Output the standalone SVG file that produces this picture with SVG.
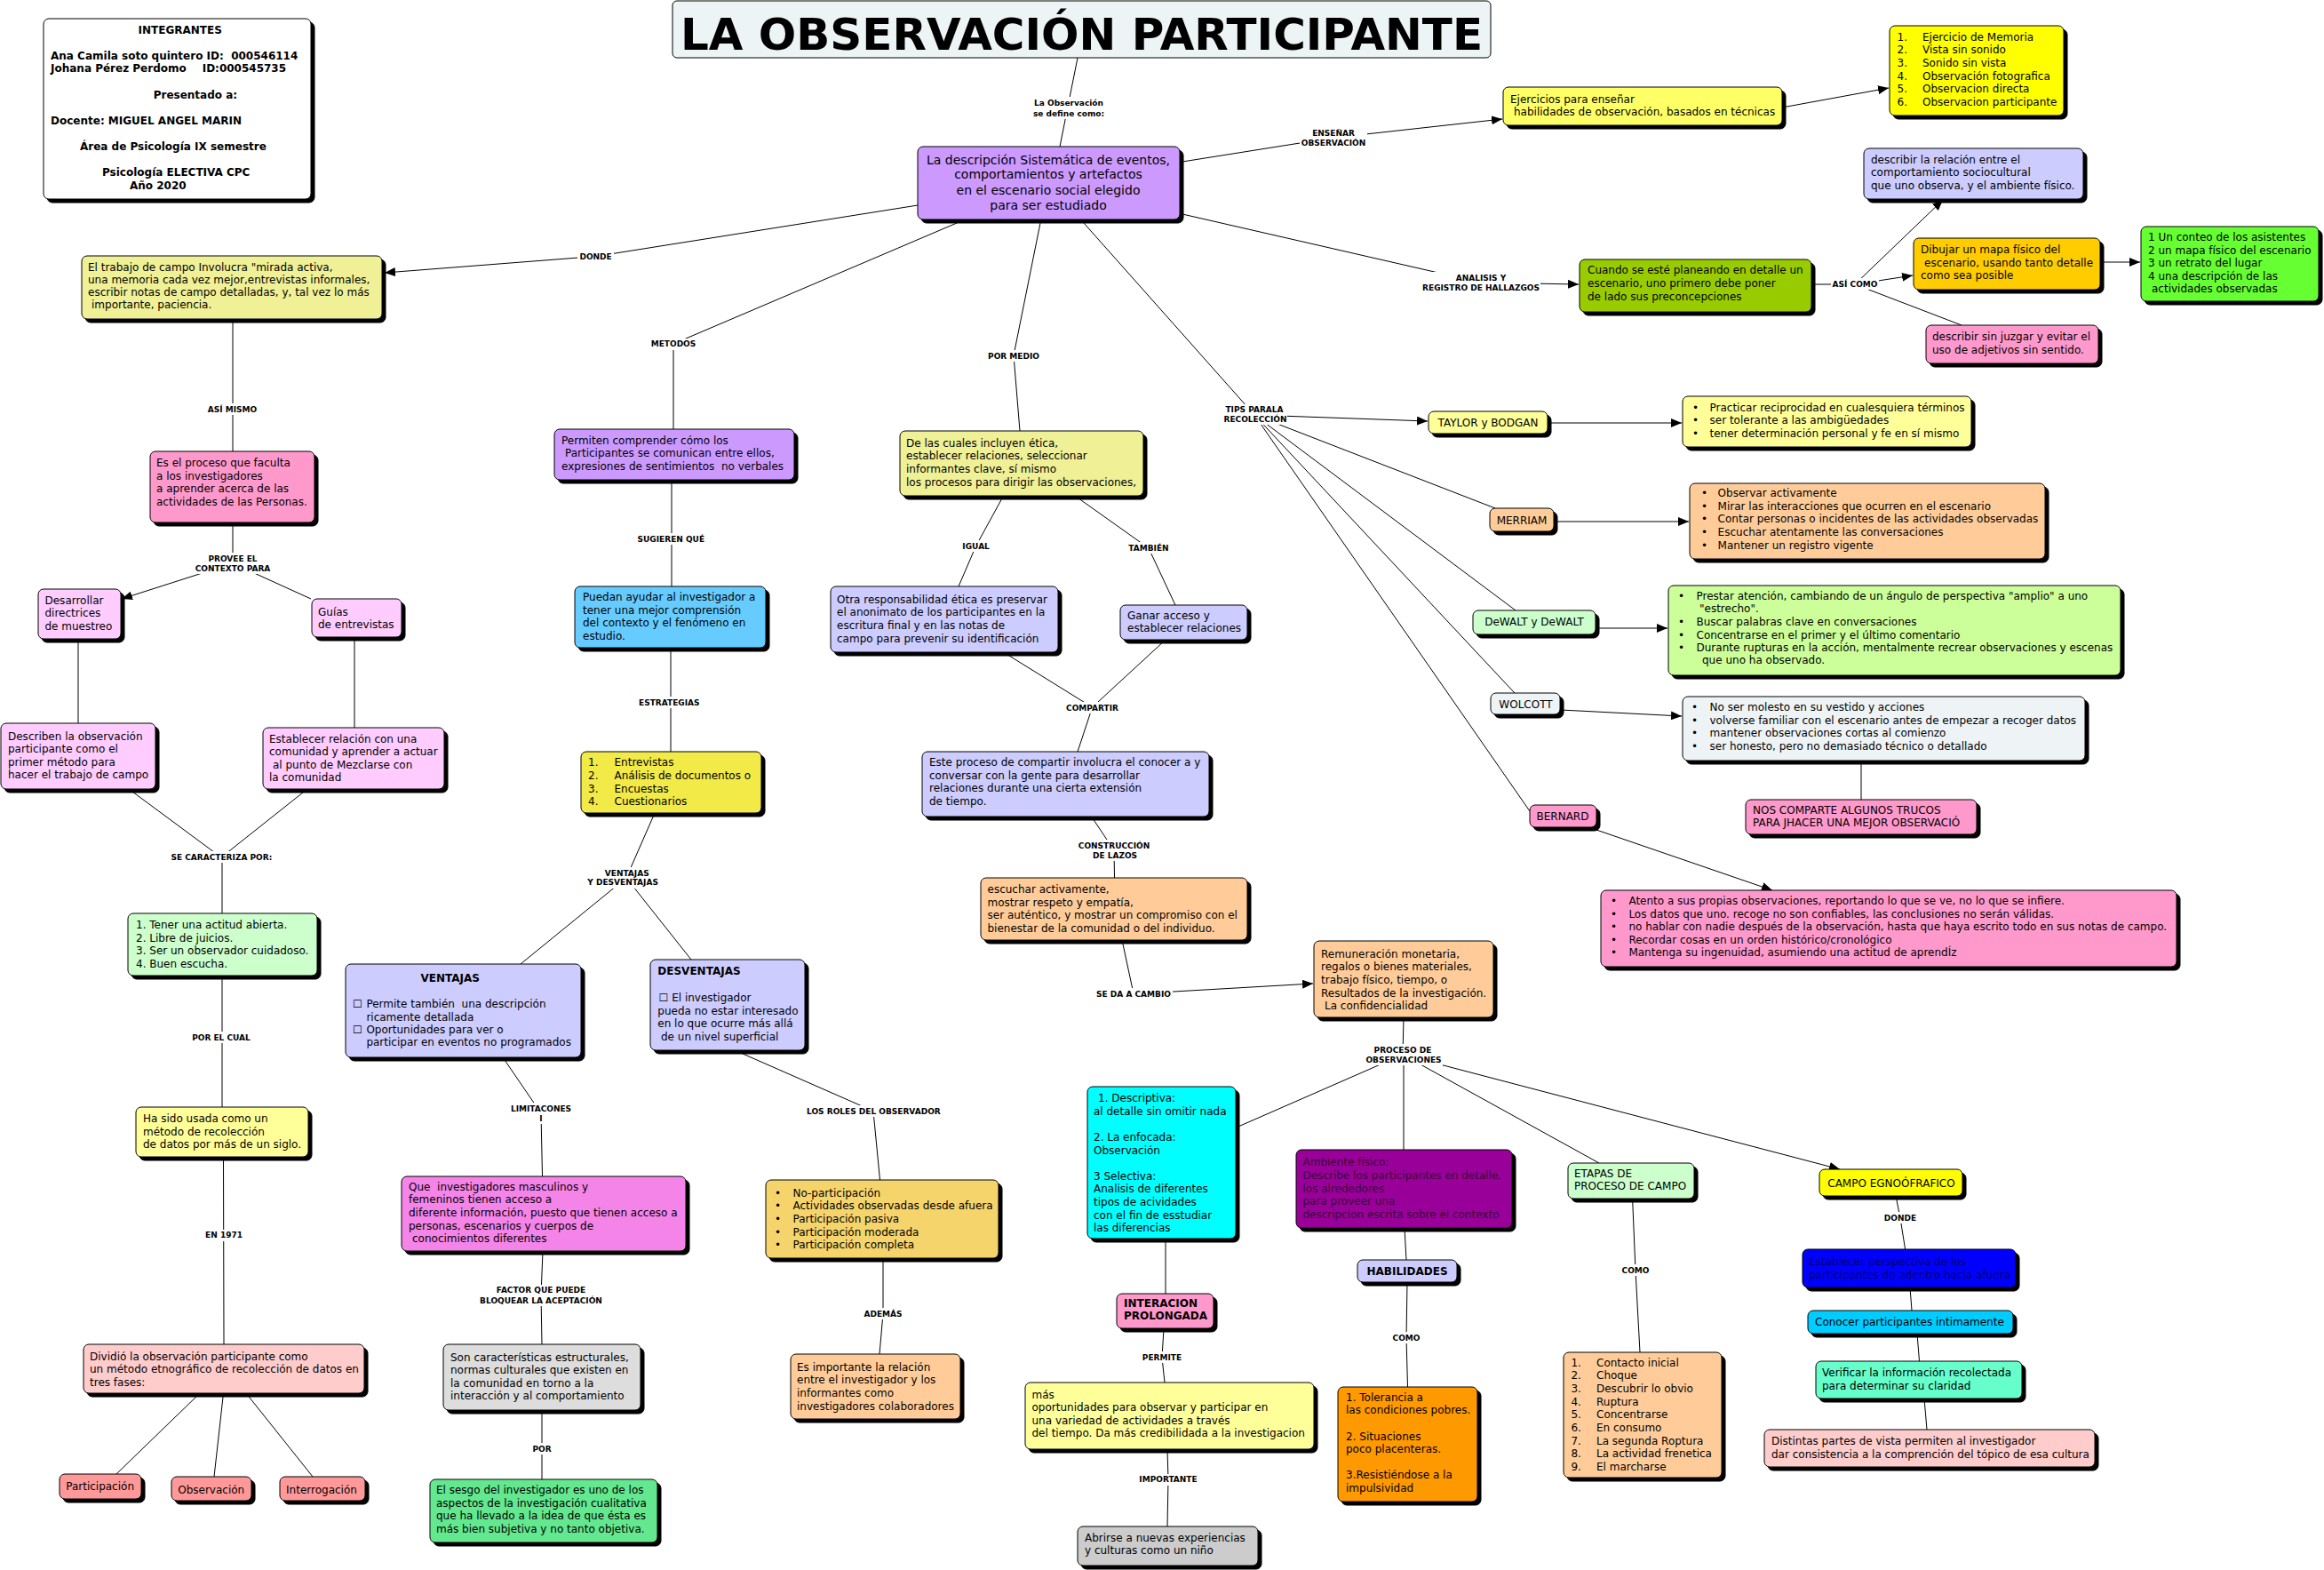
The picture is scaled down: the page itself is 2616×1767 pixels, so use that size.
<svg xmlns="http://www.w3.org/2000/svg" width="2616" height="1767" viewBox="0 0 2616 1767">
<defs>
<style>
text{font-family:"DejaVu Sans",Verdana,"Liberation Sans",sans-serif;font-size:12px;fill:#000}
.b{font-weight:bold}
.m{text-anchor:middle}
.n{stroke:#000;stroke-width:1;filter:url(#ds)}
.c{stroke:#000;stroke-width:1;fill:none}
.a{marker-end:url(#ah)}
.lb{fill:#fff}
.lt{font-size:9px;font-weight:bold;text-anchor:middle}
</style>
<filter id="ds" x="-0.1" y="-0.3" width="1.3" height="1.8"><feOffset in="SourceAlpha" dx="4" dy="4" result="o"/><feMerge><feMergeNode in="o"/><feMergeNode in="SourceGraphic"/></feMerge></filter>
<marker id="ah" viewBox="0 0 12 10" refX="12" refY="5" markerWidth="12" markerHeight="10" markerUnits="userSpaceOnUse" orient="auto"><path d="M0,0 L12,5 L0,10 z" fill="#000"/></marker>
</defs>
<rect width="2616" height="1767" fill="#fff"/>

<g id="connectors">
<line class="c" x1="1213" y1="65" x2="1193" y2="165"/>
<line class="c" x1="1033" y1="231" x2="670.6" y2="288.5"/>
<line class="c a" x1="670.6" y1="288.5" x2="433" y2="307"/>
<line class="c" x1="1077" y1="251" x2="758" y2="387"/>
<line class="c" x1="758" y1="387" x2="758" y2="483"/>
<line class="c" x1="1171" y1="251" x2="1141" y2="400"/>
<line class="c" x1="1141" y1="400" x2="1148" y2="485"/>
<line class="c" x1="1331" y1="182" x2="1501" y2="155"/>
<line class="c a" x1="1501" y1="155" x2="1691" y2="134"/>
<line class="c" x1="1331" y1="241" x2="1667" y2="318"/>
<line class="c a" x1="1667" y1="318" x2="1777" y2="320"/>
<line class="c" x1="1220" y1="251" x2="1412" y2="467"/>
<line class="c a" x1="1412" y1="467" x2="1607" y2="474"/>
<line class="c a" x1="1742" y1="476" x2="1893" y2="476"/>
<line class="c" x1="1412" y1="467" x2="1683" y2="572"/>
<line class="c a" x1="1750" y1="587" x2="1901" y2="587"/>
<line class="c" x1="1412" y1="467" x2="1706" y2="687"/>
<line class="c a" x1="1796" y1="707" x2="1877" y2="707"/>
<line class="c" x1="1412" y1="467" x2="1705" y2="780"/>
<line class="c a" x1="1757" y1="799" x2="1893" y2="806"/>
<line class="c" x1="1412" y1="467" x2="1722" y2="913"/>
<line class="c a" x1="1797" y1="934" x2="1995" y2="1002"/>
<line class="c" x1="2095" y1="856" x2="2095" y2="900"/>
<line class="c a" x1="2006" y1="121" x2="2126" y2="99"/>
<line class="c" x1="2039" y1="320" x2="2088" y2="320"/>
<line class="c a" x1="2088" y1="320" x2="2187" y2="225"/>
<line class="c a" x1="2088" y1="320" x2="2153" y2="310"/>
<line class="c" x1="2088" y1="320" x2="2208" y2="366"/>
<line class="c a" x1="2364" y1="295" x2="2409" y2="295"/>
<line class="c" x1="262" y1="359" x2="262" y2="508"/>
<line class="c" x1="262" y1="588" x2="262" y2="634"/>
<line class="c a" x1="262" y1="634" x2="137" y2="674"/>
<line class="c" x1="262" y1="634" x2="350" y2="674"/>
<line class="c" x1="88" y1="719" x2="88" y2="814"/>
<line class="c" x1="399" y1="717" x2="399" y2="819"/>
<line class="c" x1="145" y1="888" x2="249" y2="965"/>
<line class="c" x1="346" y1="888" x2="249" y2="965"/>
<line class="c" x1="250" y1="965" x2="250" y2="1028"/>
<line class="c" x1="250" y1="1098" x2="250" y2="1246"/>
<line class="c" x1="251.5" y1="1302" x2="252" y2="1513"/>
<line class="c" x1="225" y1="1568" x2="131" y2="1659"/>
<line class="c" x1="251.5" y1="1568" x2="241" y2="1662"/>
<line class="c" x1="277" y1="1568" x2="352" y2="1662"/>
<line class="c" x1="756" y1="540" x2="756" y2="660"/>
<line class="c" x1="755" y1="729" x2="755" y2="846"/>
<line class="c" x1="737" y1="915" x2="705" y2="988"/>
<line class="c" x1="705" y1="988" x2="586" y2="1085"/>
<line class="c" x1="705" y1="988" x2="778" y2="1080"/>
<line class="c" x1="566" y1="1190" x2="609" y2="1253"/>
<line class="c" x1="609" y1="1253" x2="610.5" y2="1324"/>
<line class="c" x1="611" y1="1408" x2="609" y2="1458"/>
<line class="c" x1="609" y1="1458" x2="610" y2="1513"/>
<line class="c" x1="610" y1="1587" x2="610" y2="1665"/>
<line class="c" x1="827" y1="1182" x2="983" y2="1250.5"/>
<line class="c" x1="983" y1="1250.5" x2="990.5" y2="1328"/>
<line class="c" x1="994" y1="1416" x2="994" y2="1478.5"/>
<line class="c" x1="994" y1="1478.5" x2="990" y2="1524"/>
<line class="c" x1="1129.5" y1="558" x2="1098.6" y2="614.5"/>
<line class="c" x1="1098.6" y1="614.5" x2="1079" y2="660"/>
<line class="c" x1="1210" y1="558" x2="1293" y2="617"/>
<line class="c" x1="1293" y1="617" x2="1323" y2="681"/>
<line class="c" x1="1129.5" y1="734" x2="1229.5" y2="796"/>
<line class="c" x1="1312" y1="720" x2="1229.5" y2="796"/>
<line class="c" x1="1229.5" y1="796" x2="1213" y2="846"/>
<line class="c" x1="1228.6" y1="919" x2="1254" y2="957"/>
<line class="c" x1="1254" y1="957" x2="1254.5" y2="988"/>
<line class="c" x1="1263" y1="1058" x2="1276" y2="1118.6"/>
<line class="c a" x1="1276" y1="1118.6" x2="1478" y2="1107"/>
<line class="c" x1="1580" y1="1145" x2="1579" y2="1187"/>
<line class="c" x1="1579" y1="1187" x2="1391.5" y2="1269"/>
<line class="c" x1="1580" y1="1187" x2="1580" y2="1294"/>
<line class="c" x1="1579" y1="1187" x2="1800" y2="1309"/>
<line class="c a" x1="1579" y1="1187" x2="2071" y2="1316"/>
<line class="c" x1="1312" y1="1394" x2="1312" y2="1456"/>
<line class="c" x1="1310" y1="1495" x2="1308" y2="1528"/>
<line class="c" x1="1308" y1="1528" x2="1311" y2="1556"/>
<line class="c" x1="1314" y1="1631" x2="1315" y2="1665"/>
<line class="c" x1="1315" y1="1665" x2="1314" y2="1718"/>
<line class="c" x1="1581" y1="1382" x2="1583" y2="1418"/>
<line class="c" x1="1584" y1="1443" x2="1583" y2="1505.5"/>
<line class="c" x1="1583" y1="1505.5" x2="1584.5" y2="1561"/>
<line class="c" x1="1837.6" y1="1349" x2="1841" y2="1430"/>
<line class="c" x1="1841" y1="1430" x2="1846" y2="1522"/>
<line class="c" x1="2134" y1="1346" x2="2139" y2="1371"/>
<line class="c" x1="2139" y1="1371" x2="2144.6" y2="1406"/>
<line class="c" x1="2150" y1="1449" x2="2152" y2="1475"/>
<line class="c" x1="2158" y1="1501" x2="2160.5" y2="1532"/>
<line class="c" x1="2166" y1="1574" x2="2169" y2="1609"/>

<g id="link-labels">
<rect class="lb" x="1157" y="109" width="92" height="25"/><text class="lt"><tspan x="1203" y="119">La Observación</tspan><tspan x="1203" y="131">se define como:</tspan></text>
<rect class="lb" x="650" y="282" width="41" height="13"/><text class="lt" x="670.6" y="291.7">DONDE</text>
<rect class="lb" x="732" y="381" width="52" height="13"/><text class="lt" x="758" y="390.4">METODOS</text>
<rect class="lb" x="1110" y="394" width="62" height="13"/><text class="lt" x="1141" y="403.6">POR MEDIO</text>
<rect class="lb" x="1463" y="143" width="76" height="24"/><text class="lt"><tspan x="1501" y="152.7">ENSEÑAR</tspan><tspan x="1501" y="163.6">OBSERVACIÓN</tspan></text>
<rect class="lb" x="1600" y="306" width="134" height="24"/><text class="lt"><tspan x="1667" y="316.1">ANALISIS Y</tspan><tspan x="1667" y="327">REGISTRO DE HALLAZGOS</tspan></text>
<rect class="lb" x="1375" y="455" width="74" height="23"/><text class="lt"><tspan x="1412" y="464.4">TIPS PARALA</tspan><tspan x="1413" y="475.3">RECOLECCIÓN</tspan></text>
<rect class="lb" x="2061" y="313" width="54" height="13"/><text class="lt" x="2088" y="322.8">ASÍ COMO</text>
<rect class="lb" x="232" y="454" width="59" height="13"/><text class="lt" x="261.5" y="463.7">ASÍ MISMO</text>
<rect class="lb" x="218" y="622" width="88" height="24"/><text class="lt"><tspan x="262" y="632">PROVEE EL</tspan><tspan x="262" y="643.3">CONTEXTO PARA</tspan></text>
<rect class="lb" x="191" y="958" width="117" height="13"/><text class="lt" x="249.4" y="967.8">SE CARACTERIZA POR:</text>
<rect class="lb" x="215" y="1161" width="68" height="13"/><text class="lt" x="249" y="1170.6">POR EL CUAL</text>
<rect class="lb" x="230" y="1384" width="44" height="13"/><text class="lt" x="252" y="1393.4">EN 1971</text>
<rect class="lb" x="716" y="600" width="79" height="13"/><text class="lt" x="755.3" y="610.2">SUGIEREN QUÉ</text>
<rect class="lb" x="717" y="784" width="73" height="13"/><text class="lt" x="753.3" y="793.5">ESTRATEGIAS</text>
<rect class="lb" x="659" y="976" width="86" height="24"/><text class="lt"><tspan x="705.7" y="985.5">VENTAJAS</tspan><tspan x="701.1" y="996.4">Y DESVENTAJAS</tspan></text>
<rect class="lb" x="573" y="1241" width="72" height="24"/><text class="lt"><tspan x="609" y="1250.7">LIMITACONES</tspan><tspan x="609" y="1261.6">I</tspan></text>
<rect class="lb" x="538" y="1446" width="142" height="24"/><text class="lt"><tspan x="609" y="1455.4">FACTOR QUE PUEDE</tspan><tspan x="609" y="1466.7">BLOQUEAR LA ACEPTACIÓN</tspan></text>
<rect class="lb" x="598" y="1624" width="24" height="13"/><text class="lt" x="610" y="1633.8">POR</text>
<rect class="lb" x="907" y="1244" width="153" height="13"/><text class="lt" x="983.4" y="1253.7">LOS ROLES DEL OBSERVADOR</text>
<rect class="lb" x="971" y="1472" width="46" height="13"/><text class="lt" x="994" y="1481.7">ADEMÁS</text>
<rect class="lb" x="1081" y="608" width="35" height="13"/><text class="lt" x="1098.6" y="617.7">IGUAL</text>
<rect class="lb" x="1266" y="610" width="54" height="13"/><text class="lt" x="1293" y="620.4">TAMBIÉN</text>
<rect class="lb" x="1198" y="790" width="63" height="13"/><text class="lt" x="1229.5" y="799.5">COMPARTIR</text>
<rect class="lb" x="1212" y="945" width="84" height="24"/><text class="lt"><tspan x="1254" y="954.7">CONSTRUCCIÓN</tspan><tspan x="1255" y="965.9">DE LAZOS</tspan></text>
<rect class="lb" x="1232" y="1112" width="88" height="13"/><text class="lt" x="1276" y="1121.8">SE DA A CAMBIO</text>
<rect class="lb" x="1534" y="1175" width="90" height="24"/><text class="lt"><tspan x="1579" y="1185">PROCESO DE</tspan><tspan x="1580" y="1195.5">OBSERVACIONES</tspan></text>
<rect class="lb" x="1282" y="1521" width="52" height="13"/><text class="lt" x="1308" y="1531.2">PERMITE</text>
<rect class="lb" x="1279" y="1659" width="72" height="13"/><text class="lt" x="1315" y="1668.4">IMPORTANTE</text>
<rect class="lb" x="1566" y="1499" width="34" height="13"/><text class="lt" x="1583" y="1508.7">COMO</text>
<rect class="lb" x="1824" y="1423" width="34" height="13"/><text class="lt" x="1841" y="1432.9">COMO</text>
<rect class="lb" x="2120" y="1364" width="38" height="13"/><text class="lt" x="2139" y="1373.9">DONDE</text>
</g>
</g>

<g id="n-title"><rect x="757" y="1" width="921" height="64" rx="5" fill="#EDF4F5" stroke="#000" stroke-width="1"/><text class="b" x="766" y="56" style="font-size:49px" textLength="903" lengthAdjust="spacingAndGlyphs">LA OBSERVACIÓN PARTICIPANTE</text></g>

<g id="n-integrantes"><rect class="n" x="49" y="21" width="301" height="203" rx="6" fill="#fff"/>
<text class="b"><tspan x="155.5" y="38">INTEGRANTES</tspan><tspan x="57" y="67">Ana Camila soto quintero ID:&#160; 000546114</tspan><tspan x="57" y="81.4">Johana Pérez Perdomo</tspan><tspan x="227.7" y="81.4">ID:000545735</tspan><tspan x="172.7" y="110.7">Presentado a:</tspan><tspan x="57" y="139.6">Docente: MIGUEL ANGEL MARIN</tspan><tspan x="90" y="169">Área de Psicología IX semestre</tspan><tspan x="115" y="198">Psicología ELECTIVA CPC</tspan><tspan x="146" y="212.5">Año 2020</tspan></text></g>

<g id="n-main"><rect class="n" x="1033" y="165" width="295" height="82" rx="6" fill="#CC99FF"/>
<text class="m" style="font-size:14px"><tspan x="1180" y="185.3">La descripción Sistemática de eventos,</tspan><tspan x="1180" y="201.4">comportamientos y artefactos</tspan><tspan x="1180" y="218.7">en el escenario social elegido</tspan><tspan x="1180" y="235.6">para ser estudiado</tspan></text></g>

<g id="n-trabajo"><rect class="n" x="92" y="288" width="338" height="71" rx="6" fill="#F0F096"/>
<text><tspan x="99" y="304.5">El trabajo de campo Involucra "mirada activa,</tspan><tspan x="99" y="318.8">una memoria cada vez mejor,entrevistas informales,</tspan><tspan x="99" y="333">escribir notas de campo detalladas, y, tal vez lo más</tspan><tspan x="103" y="347.3">importante, paciencia.</tspan></text></g>

<g id="n-proceso"><rect class="n" x="169" y="508" width="185" height="80" rx="6" fill="#FF99CC"/>
<text><tspan x="176" y="525.3">Es el proceso que faculta</tspan><tspan x="176" y="539.6">a los investigadores</tspan><tspan x="176" y="554.3">a aprender acerca de las</tspan><tspan x="176" y="568.9">actividades de las Personas.</tspan></text></g>

<g id="n-desarrollar"><rect class="n" x="43" y="663" width="93" height="56" rx="6" fill="#FFCCFF"/>
<text><tspan x="50.5" y="679.8">Desarrollar</tspan><tspan x="50.5" y="694.4">directrices</tspan><tspan x="50.5" y="709.1">de muestreo</tspan></text></g>

<g id="n-guias"><rect class="n" x="351" y="674" width="101" height="43" rx="6" fill="#FFCCFF"/>
<text><tspan x="358" y="692.5">Guías</tspan><tspan x="358" y="707.2">de entrevistas</tspan></text></g>

<g id="n-describen"><rect class="n" x="1" y="814" width="174" height="74" rx="6" fill="#FFCCFF"/>
<text><tspan x="9" y="832.6">Describen la observación</tspan><tspan x="9" y="847.3">participante como el</tspan><tspan x="9" y="861.9">primer método para</tspan><tspan x="9" y="876.2">hacer el trabajo de campo</tspan></text></g>

<g id="n-relacion-comunidad"><rect class="n" x="296" y="819" width="204" height="69" rx="6" fill="#FFCCFF"/>
<text><tspan x="303" y="835.6">Establecer relación con una</tspan><tspan x="303" y="850.3">comunidad y aprender a actuar</tspan><tspan x="307" y="864.6">al punto de Mezclarse con</tspan><tspan x="303" y="879.2">la comunidad</tspan></text></g>

<g id="n-tener"><rect class="n" x="144" y="1028" width="213" height="70" rx="6" fill="#CCFFCC"/>
<text><tspan x="153" y="1044.9">1. Tener una actitud abierta.</tspan><tspan x="153" y="1059.5">2. Libre de juicios.</tspan><tspan x="153" y="1074.1">3. Ser un observador cuidadoso.</tspan><tspan x="153" y="1088.8">4. Buen escucha.</tspan></text></g>

<g id="n-hasido"><rect class="n" x="153" y="1246" width="194" height="56" rx="6" fill="#FFFF99"/>
<text><tspan x="161" y="1263">Ha sido usada como un</tspan><tspan x="161" y="1277.8">método de recolección</tspan><tspan x="161" y="1292.4">de datos por más de un siglo.</tspan></text></g>

<g id="n-dividio"><rect class="n" x="94" y="1513" width="316" height="55" rx="6" fill="#FFCCCC"/>
<text><tspan x="101" y="1530.6">Dividió la observación participante como</tspan><tspan x="101" y="1545.2">un método etnográfico de recolección de datos en</tspan><tspan x="101" y="1559.9">tres fases:</tspan></text></g>

<g id="n-participacion"><rect class="n" x="67" y="1659" width="92" height="28" rx="6" fill="#FF9999"/><text class="m" x="112.6" y="1677">Participación</text></g>
<g id="n-observacion"><rect class="n" x="193" y="1662" width="90" height="27" rx="6" fill="#FF9999"/><text class="m" x="237.7" y="1680.5">Observación</text></g>
<g id="n-interrogacion"><rect class="n" x="315" y="1662" width="96" height="27" rx="6" fill="#FF9999"/><text class="m" x="362" y="1680.5">Interrogación</text></g>

<g id="n-permiten"><rect class="n" x="624" y="483" width="270" height="57" rx="6" fill="#CC99FF"/>
<text><tspan x="632" y="499.8">Permiten comprender cómo los</tspan><tspan x="636" y="514.1">Participantes se comunican entre ellos,</tspan><tspan x="632" y="528.7">expresiones de sentimientos&#160; no verbales</tspan></text></g>

<g id="n-puedan"><rect class="n" x="647" y="660" width="215" height="69" rx="6" fill="#66CCFF"/>
<text><tspan x="656" y="676">Puedan ayudar al investigador a</tspan><tspan x="656" y="690.7">tener una mejor comprensión</tspan><tspan x="656" y="705.3">del contexto y el fenómeno en</tspan><tspan x="656" y="720">estudio.</tspan></text></g>

<g id="n-estrategias"><rect class="n" x="654" y="846" width="203" height="69" rx="6" fill="#F2EA46"/>
<text><tspan x="662" y="862.3">1.</tspan><tspan x="691.5" y="862.3">Entrevistas</tspan><tspan x="662" y="877">2.</tspan><tspan x="691.5" y="877">Análisis de documentos o</tspan><tspan x="662" y="891.6">3.</tspan><tspan x="691.5" y="891.6">Encuestas</tspan><tspan x="662" y="906.3">4.</tspan><tspan x="691.5" y="906.3">Cuestionarios</tspan></text></g>

<g id="n-ventajas"><rect class="n" x="389" y="1085" width="265" height="105" rx="6" fill="#CCCCFF"/>
<text><tspan class="b m" x="506.7" y="1105">VENTAJAS</tspan><tspan x="397" y="1134.2">☐</tspan><tspan x="412.4" y="1134.2">Permite también&#160; una descripción</tspan><tspan x="412.4" y="1148.9">ricamente detallada</tspan><tspan x="397" y="1163.2">☐</tspan><tspan x="412.4" y="1163.2">Oportunidades para ver o</tspan><tspan x="412.4" y="1177.4">participar en eventos no programados</tspan></text></g>

<g id="n-desventajas"><rect class="n" x="732" y="1080" width="174" height="102" rx="6" fill="#CCCCFF"/>
<text><tspan class="b" x="740.3" y="1097.4">DESVENTAJAS</tspan><tspan x="741.6" y="1126.7">☐</tspan><tspan x="756.2" y="1126.7">El investigador</tspan><tspan x="740.3" y="1141.7">pueda no estar interesado</tspan><tspan x="740.3" y="1156">en lo que ocurre más allá</tspan><tspan x="744" y="1170.7">de un nivel superficial</tspan></text></g>

<g id="n-genero"><rect class="n" x="452" y="1324" width="320" height="84" rx="6" fill="#F584E8"/>
<text><tspan x="460" y="1339.8">Que&#160; investigadores masculinos y</tspan><tspan x="460" y="1354.4">femeninos tienen acceso a</tspan><tspan x="460" y="1369">diferente información, puesto que tienen acceso a</tspan><tspan x="460" y="1383.7">personas, escenarios y cuerpos de</tspan><tspan x="464" y="1398.3">conocimientos diferentes</tspan></text></g>

<g id="n-estructurales"><rect class="n" x="499" y="1513" width="222" height="74" rx="6" fill="#DDDDDD"/>
<text><tspan x="507" y="1531.7">Son características estructurales,</tspan><tspan x="507" y="1546.3">normas culturales que existen en</tspan><tspan x="507" y="1560.6">la comunidad en torno a la</tspan><tspan x="507" y="1575.3">interacción y al comportamiento</tspan></text></g>

<g id="n-sesgo"><rect class="n" x="484" y="1665" width="256" height="71" rx="6" fill="#63E88F"/>
<text><tspan x="491" y="1680.8">El sesgo del investigador es uno de los</tspan><tspan x="491" y="1695.5">aspectos de la investigación cualitativa</tspan><tspan x="491" y="1710.1">que ha llevado a la idea de que ésta es</tspan><tspan x="491" y="1724.7">más bien subjetiva y no tanto objetiva.</tspan></text></g>

<g id="n-roles"><rect class="n" x="862" y="1328" width="262" height="88" rx="6" fill="#F6D46C"/>
<text><tspan x="872" y="1346.5">•</tspan><tspan x="892.5" y="1346.5">No-participación</tspan><tspan x="872" y="1361.2">•</tspan><tspan x="892.5" y="1361.2">Actividades observadas desde afuera</tspan><tspan x="872" y="1375.8">•</tspan><tspan x="892.5" y="1375.8">Participación pasiva</tspan><tspan x="872" y="1390.5">•</tspan><tspan x="892.5" y="1390.5">Participación moderada</tspan><tspan x="872" y="1405.1">•</tspan><tspan x="892.5" y="1405.1">Participación completa</tspan></text></g>

<g id="n-colaboradores"><rect class="n" x="890" y="1524" width="191" height="73" rx="6" fill="#FFCC99"/>
<text><tspan x="897" y="1542.6">Es importante la relación</tspan><tspan x="897" y="1557.2">entre el investigador y los</tspan><tspan x="897" y="1571.9">informantes como</tspan><tspan x="897" y="1586.5">investigadores colaboradores</tspan></text></g>

<g id="n-cuales"><rect class="n" x="1013" y="485" width="274" height="73" rx="6" fill="#F0F096"/>
<text><tspan x="1020" y="502.8">De las cuales incluyen ética,</tspan><tspan x="1020" y="517.1">establecer relaciones, seleccionar</tspan><tspan x="1020" y="531.7">informantes clave, sí mismo</tspan><tspan x="1020" y="546.7">los procesos para dirigir las observaciones,</tspan></text></g>

<g id="n-anonimato"><rect class="n" x="935" y="660" width="256" height="74" rx="6" fill="#CCCCFF"/>
<text><tspan x="942" y="679">Otra responsabilidad ética es preservar</tspan><tspan x="942" y="693.3">el anonimato de los participantes en la</tspan><tspan x="942" y="707.9">escritura final y en las notas de</tspan><tspan x="942" y="722.6">campo para prevenir su identificación</tspan></text></g>

<g id="n-ganar"><rect class="n" x="1261" y="681" width="143" height="39" rx="6" fill="#CCCCFF"/>
<text><tspan x="1269" y="696.7">Ganar acceso y</tspan><tspan x="1269" y="711.3">establecer relaciones</tspan></text></g>

<g id="n-compartir"><rect class="n" x="1038" y="846" width="323" height="73" rx="6" fill="#CCCCFF"/>
<text><tspan x="1046" y="862.3">Este proceso de compartir involucra el conocer a y</tspan><tspan x="1046" y="877">conversar con la gente para desarrollar</tspan><tspan x="1046" y="891.2">relaciones durante una cierta extensión</tspan><tspan x="1046" y="905.9">de tiempo.</tspan></text></g>

<g id="n-escuchar"><rect class="n" x="1104" y="988" width="300" height="70" rx="6" fill="#FFCC99"/>
<text><tspan x="1111.5" y="1005">escuchar activamente,</tspan><tspan x="1111.5" y="1019.7">mostrar respeto y empatía,</tspan><tspan x="1111.5" y="1034.3">ser auténtico, y mostrar un compromiso con el</tspan><tspan x="1111.5" y="1048.6">bienestar de la comunidad o del individuo.</tspan></text></g>

<g id="n-remuneracion"><rect class="n" x="1479" y="1059" width="202" height="86" rx="6" fill="#FFCC99"/>
<text><tspan x="1487" y="1077.5">Remuneración monetaria,</tspan><tspan x="1487" y="1092.2">regalos o bienes materiales,</tspan><tspan x="1487" y="1106.8">trabajo físico, tiempo, o</tspan><tspan x="1487" y="1121.5">Resultados de la investigación.</tspan><tspan x="1491" y="1136.1">La confidencialidad</tspan></text></g>

<g id="n-descriptiva"><rect class="n" x="1224" y="1223" width="167" height="171" rx="6" fill="#00FFFF"/>
<text><tspan x="1236" y="1240.2">1. Descriptiva:</tspan><tspan x="1231" y="1254.8">al detalle sin omitir nada</tspan><tspan x="1231" y="1284">2. La enfocada:</tspan><tspan x="1231" y="1298.6">Observación</tspan><tspan x="1231" y="1327.8">3 Selectiva:</tspan><tspan x="1231" y="1342.4">Analisis de diferentes</tspan><tspan x="1231" y="1357">tipos de acividades</tspan><tspan x="1231" y="1371.6">con el fin de esstudiar</tspan><tspan x="1231" y="1386.2">las diferencias</tspan></text></g>

<g id="n-interacion"><rect class="n" x="1257" y="1456" width="109" height="39" rx="6" fill="#FF99CC"/>
<text class="b"><tspan x="1265" y="1470.5">INTERACION</tspan><tspan x="1265" y="1485.1">PROLONGADA</tspan></text></g>

<g id="n-mas"><rect class="n" x="1154" y="1556" width="325" height="75" rx="6" fill="#FFFF99"/>
<text><tspan x="1161.5" y="1573.8">más</tspan><tspan x="1161.5" y="1588.4">oportunidades para observar y participar en</tspan><tspan x="1161.5" y="1602.7">una variedad de actividades a través</tspan><tspan x="1161.5" y="1617.3">del tiempo. Da más credibilidada a la investigacion</tspan></text></g>

<g id="n-abrirse"><rect class="n" x="1213" y="1718" width="203" height="44" rx="6" fill="#CCCCCC"/>
<text><tspan x="1221" y="1734.5">Abrirse a nuevas experiencias</tspan><tspan x="1221" y="1749.2">y culturas como un niño</tspan></text></g>

<g id="n-ambiente"><rect class="n" x="1459" y="1294" width="243" height="88" rx="6" fill="#990099"/>
<text style="fill:#3A0038"><tspan x="1466.5" y="1312.3">Ambiente físico:</tspan><tspan x="1466.5" y="1327">Describe los participantes en detalle,</tspan><tspan x="1466.5" y="1341.6">los alrededores</tspan><tspan x="1466.5" y="1356.3">para proveer una</tspan><tspan x="1466.5" y="1370.9">descripcion escrita sobre el contexto</tspan></text></g>

<g id="n-habilidades"><rect class="n" x="1528" y="1418" width="112" height="25" rx="6" fill="#CCCCFF"/><text class="b m" x="1584" y="1434.5">HABILIDADES</text></g>

<g id="n-tolerancia"><rect class="n" x="1506" y="1561" width="157" height="129" rx="6" fill="#FF9900"/>
<text><tspan x="1515" y="1576.8">1. Tolerancia a</tspan><tspan x="1515" y="1591.4">las condiciones pobres.</tspan><tspan x="1515" y="1620.7">2. Situaciones</tspan><tspan x="1515" y="1635.3">poco placenteras.</tspan><tspan x="1515" y="1664.3">3.Resistiéndose a la</tspan><tspan x="1515" y="1678.9">impulsividad</tspan></text></g>

<g id="n-etapas"><rect class="n" x="1765" y="1309" width="142" height="40" rx="6" fill="#CCFFCC"/>
<text><tspan x="1772" y="1324.7">ETAPAS DE</tspan><tspan x="1772" y="1339">PROCESO DE CAMPO</tspan></text></g>

<g id="n-contacto"><rect class="n" x="1760" y="1522" width="178" height="141" rx="6" fill="#FFCC99"/>
<text><tspan x="1768.4" y="1537.7">1.</tspan><tspan x="1797" y="1537.7">Contacto inicial</tspan><tspan x="1768.4" y="1552.3">2.</tspan><tspan x="1797" y="1552.3">Choque</tspan><tspan x="1768.4" y="1567">3.</tspan><tspan x="1797" y="1567">Descubrir lo obvio</tspan><tspan x="1768.4" y="1581.6">4.</tspan><tspan x="1797" y="1581.6">Ruptura</tspan><tspan x="1768.4" y="1596.3">5.</tspan><tspan x="1797" y="1596.3">Concentrarse</tspan><tspan x="1768.4" y="1610.9">6.</tspan><tspan x="1797" y="1610.9">En consumo</tspan><tspan x="1768.4" y="1625.6">7.</tspan><tspan x="1797" y="1625.6">La segunda Roptura</tspan><tspan x="1768.4" y="1639.9">8.</tspan><tspan x="1797" y="1639.9">La actividad frenetica</tspan><tspan x="1768.4" y="1654.5">9.</tspan><tspan x="1797" y="1654.5">El marcharse</tspan></text></g>

<g id="n-campo"><rect class="n" x="2048" y="1316" width="161" height="30" rx="6" fill="#FFFF00"/><text class="m" x="2129" y="1336">CAMPO EGNOÓFRAFICO</text></g>

<g id="n-perspectiva"><rect class="n" x="2029" y="1406" width="240" height="43" rx="6" fill="#0000FF"/>
<text style="fill:#000066"><tspan x="2036" y="1424.3">Establecer perspectiva de los</tspan><tspan x="2036" y="1438.9">participantes de adentro hacia afuera</tspan></text></g>

<g id="n-conocer"><rect class="n" x="2035" y="1475" width="231" height="26" rx="6" fill="#00CCFF"/><text x="2043" y="1491.5">Conocer participantes intimamente</text></g>

<g id="n-verificar"><rect class="n" x="2044" y="1532" width="232" height="42" rx="6" fill="#66FFCC"/>
<text><tspan x="2051" y="1549.3">Verificar la información recolectada</tspan><tspan x="2051" y="1564">para determinar su claridad</tspan></text></g>

<g id="n-distintas"><rect class="n" x="1986" y="1609" width="372" height="42" rx="6" fill="#FFCCCC"/>
<text><tspan x="1994" y="1626">Distintas partes de vista permiten al investigador</tspan><tspan x="1994" y="1640.6">dar consistencia a la comprención del tópico de esa cultura</tspan></text></g>

<g id="n-ejercicios"><rect class="n" x="1692" y="98" width="314" height="43" rx="6" fill="#FFFF66"/>
<text><tspan x="1700" y="115.6">Ejercicios para enseñar</tspan><tspan x="1704" y="130.2">habilidades de observación, basados en técnicas</tspan></text></g>

<g id="n-ejercicios-lista"><rect class="n" x="2127" y="29" width="196" height="101" rx="6" fill="#FFFF00"/>
<text><tspan x="2135.5" y="45.7">1.</tspan><tspan x="2164" y="45.7">Ejercicio de Memoria</tspan><tspan x="2135.5" y="60.3">2.</tspan><tspan x="2164" y="60.3">Vista sin sonido</tspan><tspan x="2135.5" y="75">3.</tspan><tspan x="2164" y="75">Sonido sin vista</tspan><tspan x="2135.5" y="89.6">4.</tspan><tspan x="2164" y="89.6">Observación fotografica</tspan><tspan x="2135.5" y="104.3">5.</tspan><tspan x="2164" y="104.3">Observacion directa</tspan><tspan x="2135.5" y="118.9">6.</tspan><tspan x="2164" y="118.9">Observacion participante</tspan></text></g>

<g id="n-cuando"><rect class="n" x="1778" y="292" width="261" height="59" rx="6" fill="#99CC00"/>
<text><tspan x="1787" y="308.2">Cuando se esté planeando en detalle un</tspan><tspan x="1787" y="323.3">escenario, uno primero debe poner</tspan><tspan x="1787" y="337.5">de lado sus preconcepciones</tspan></text></g>

<g id="n-describir-relacion"><rect class="n" x="2098" y="167" width="247" height="57" rx="6" fill="#CCCCFF"/>
<text><tspan x="2106" y="183.5">describir la relación entre el</tspan><tspan x="2106" y="198.2">comportamiento sociocultural</tspan><tspan x="2106" y="212.5">que uno observa, y el ambiente físico.</tspan></text></g>

<g id="n-dibujar"><rect class="n" x="2154" y="268" width="210" height="58" rx="6" fill="#FFCC00"/>
<text><tspan x="2162" y="285">Dibujar un mapa físico del</tspan><tspan x="2166" y="299.6">escenario, usando tanto detalle</tspan><tspan x="2162" y="313.9">como sea posible</tspan></text></g>

<g id="n-conteo"><rect class="n" x="2410" y="255" width="200" height="84" rx="6" fill="#66FF33"/>
<text><tspan x="2418" y="271">1 Un conteo de los asistentes</tspan><tspan x="2418" y="285.7">2 un mapa físico del escenario</tspan><tspan x="2418" y="300.3">3 un retrato del lugar</tspan><tspan x="2418" y="315">4 una descripción de las</tspan><tspan x="2422" y="329.3">actividades observadas</tspan></text></g>

<g id="n-juzgar"><rect class="n" x="2168" y="366" width="194" height="43" rx="6" fill="#FF99CC"/>
<text><tspan x="2175" y="383.4">describir sin juzgar y evitar el</tspan><tspan x="2175" y="398">uso de adjetivos sin sentido.</tspan></text></g>

<g id="n-taylor"><rect class="n" x="1608" y="463" width="134" height="25" rx="6" fill="#FFFF99"/><text class="m" x="1675" y="479.5">TAYLOR y BODGAN</text></g>

<g id="n-taylor-lista"><rect class="n" x="1894" y="446" width="325" height="57" rx="6" fill="#FFFF99"/>
<text><tspan x="1905" y="462.6">•</tspan><tspan x="1924.5" y="462.6">Practicar reciprocidad en cualesquiera términos</tspan><tspan x="1905" y="477.3">•</tspan><tspan x="1924.5" y="477.3">ser tolerante a las ambigüedades</tspan><tspan x="1905" y="491.5">•</tspan><tspan x="1924.5" y="491.5">tener determinación personal y fe en sí mismo</tspan></text></g>

<g id="n-merriam"><rect class="n" x="1677" y="572" width="72" height="26" rx="6" fill="#FFCC99"/><text class="m" x="1713" y="589.5">MERRIAM</text></g>

<g id="n-merriam-lista"><rect class="n" x="1902" y="544" width="400" height="85" rx="6" fill="#FFCC99"/>
<text><tspan x="1915" y="559.1">•</tspan><tspan x="1933.6" y="559.1">Observar activamente</tspan><tspan x="1915" y="574.2">•</tspan><tspan x="1933.6" y="574.2">Mirar las interacciones que ocurren en el escenario</tspan><tspan x="1915" y="588.4">•</tspan><tspan x="1933.6" y="588.4">Contar personas o incidentes de las actividades observadas</tspan><tspan x="1915" y="603.1">•</tspan><tspan x="1933.6" y="603.1">Escuchar atentamente las conversaciones</tspan><tspan x="1915" y="618.2">•</tspan><tspan x="1933.6" y="618.2">Mantener un registro vigente</tspan></text></g>

<g id="n-dewalt"><rect class="n" x="1658" y="687" width="138" height="27" rx="6" fill="#CCFFCC"/><text class="m" x="1727" y="704">DeWALT y DeWALT</text></g>

<g id="n-dewalt-lista"><rect class="n" x="1878" y="659" width="509" height="101" rx="6" fill="#CCFF99"/>
<text><tspan x="1889" y="674.5">•</tspan><tspan x="1909.5" y="674.5">Prestar atención, cambiando de un ángulo de perspectiva "amplio" a uno</tspan><tspan x="1913" y="689.2">"estrecho".</tspan><tspan x="1889" y="703.8">•</tspan><tspan x="1909.5" y="703.8">Buscar palabras clave en conversaciones</tspan><tspan x="1889" y="718.5">•</tspan><tspan x="1909.5" y="718.5">Concentrarse en el primer y el último comentario</tspan><tspan x="1889" y="732.7">•</tspan><tspan x="1909.5" y="732.7">Durante rupturas en la acción, mentalmente recrear observaciones y escenas</tspan><tspan x="1916" y="747.4">que uno ha observado.</tspan></text></g>

<g id="n-wolcott"><rect class="n" x="1678" y="780" width="78" height="24" rx="6" fill="#EEF4F6"/><text class="m" x="1717.5" y="796.5">WOLCOTT</text></g>

<g id="n-wolcott-lista"><rect class="n" x="1894" y="784" width="453" height="72" rx="6" fill="#EEF4F6"/>
<text><tspan x="1904" y="800">•</tspan><tspan x="1924.5" y="800">No ser molesto en su vestido y acciones</tspan><tspan x="1904" y="814.6">•</tspan><tspan x="1924.5" y="814.6">volverse familiar con el escenario antes de empezar a recoger datos</tspan><tspan x="1904" y="829.3">•</tspan><tspan x="1924.5" y="829.3">mantener observaciones cortas al comienzo</tspan><tspan x="1904" y="843.9">•</tspan><tspan x="1924.5" y="843.9">ser honesto, pero no demasiado técnico o detallado</tspan></text></g>

<g id="n-trucos"><rect class="n" x="1965" y="900" width="260" height="39" rx="6" fill="#FF99CC"/>
<text><tspan x="1973" y="915.6">NOS COMPARTE ALGUNOS TRUCOS</tspan><tspan x="1973" y="930.3">PARA JHACER UNA MEJOR OBSERVACIÓ</tspan></text></g>

<g id="n-bernard"><rect class="n" x="1722" y="906" width="75" height="25" rx="6" fill="#FF99CC"/><text class="m" x="1759" y="922.5">BERNARD</text></g>

<g id="n-bernard-lista"><rect class="n" x="1802" y="1002" width="648" height="86" rx="6" fill="#FF99CC"/>
<text><tspan x="1813" y="1018.2">•</tspan><tspan x="1833.4" y="1018.2">Atento a sus propias observaciones, reportando lo que se ve, no lo que se infiere.</tspan><tspan x="1813" y="1032.8">•</tspan><tspan x="1833.4" y="1032.8">Los datos que uno. recoge no son confiables, las conclusiones no serán válidas.</tspan><tspan x="1813" y="1047.1">•</tspan><tspan x="1833.4" y="1047.1">no hablar con nadie después de la observación, hasta que haya escrito todo en sus notas de campo.</tspan><tspan x="1813" y="1061.7">•</tspan><tspan x="1833.4" y="1061.7">Recordar cosas en un orden histórico/cronológico</tspan><tspan x="1813" y="1076.4">•</tspan><tspan x="1833.4" y="1076.4">Mantenga su ingenuidad, asumiendo una actitud de aprendÍz</tspan></text></g>
</svg>
